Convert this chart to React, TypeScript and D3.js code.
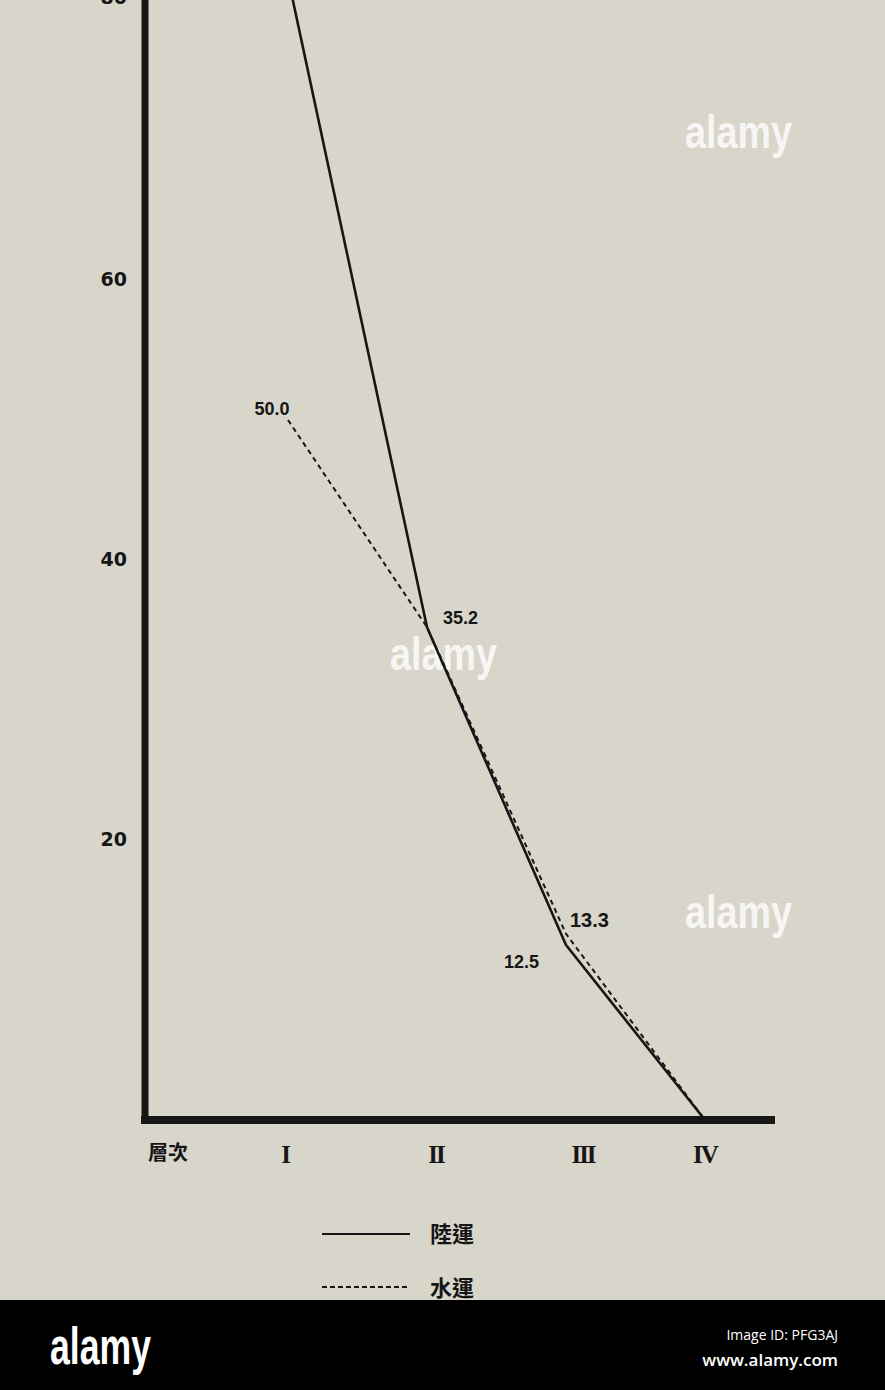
import * as d3 from 'd3';

const categories = ['I', 'II', 'III', 'IV'];
const landValues = [81.6, 35.2, 12.5, 0]; // 陸運
const waterValues = [50.0, 35.2, 13.3, 0]; // 水運
const yTicks = [20, 40, 60, 80];

const pointLabels = [
  { text: '50.0', cat: 'I', value: 50.0, dx: -16, dy: -10, anchor: 'middle', size: 18 },
  { text: '35.2', cat: 'II', value: 35.2, dx: 16, dy: -8, anchor: 'start', size: 18 },
  { text: '13.3', cat: 'III', value: 13.3, dx: 4, dy: -12, anchor: 'start', size: 20 },
  { text: '12.5', cat: 'III', value: 12.5, dx: -62, dy: 18, anchor: 'start', size: 18 },
];

const W = 885;
const H = 1390;
const BG = '#d8d5ca';
const INK = '#161616';
const CJK = '"Noto Sans CJK TC", "Noto Sans CJK SC", sans-serif';
const LOGO_FONT = "'Liberation Sans', Arial, sans-serif";

export default function App() {
  const x = d3.scalePoint<string>().domain(categories).range([288, 705]);
  const y = d3.scaleLinear().domain([0, 80]).range([1120, 0]);

  const line = d3
    .line<number>()
    .x((_, i) => x(categories[i])!)
    .y((d) => y(d));

  const axisX = 145;
  const axisY = y(0);

  return (
    <svg
      width={W}
      height={H}
      viewBox={`0 0 ${W} ${H}`}
      style={{ position: 'absolute', left: 0, top: 0, display: 'block' }}
    >
      <rect width={W} height={H} fill={BG} />

      {/* watermarks */}
      {[
        [685, 148],
        [390, 670],
        [685, 928],
      ].map(([lx, ly], i) => (
        <text
          key={i}
          x={lx}
          y={ly}
          fontFamily={LOGO_FONT}
          fontWeight="bold"
          fontSize={46}
          textLength={107}
          lengthAdjust="spacingAndGlyphs"
          fill="#ffffff"
          opacity={0.8}
        >
          alamy
        </text>
      ))}

      {/* axes */}
      <line x1={axisX} y1={0} x2={axisX} y2={axisY + 3} stroke={INK} strokeWidth={7} />
      <line x1={axisX - 4} y1={axisY} x2={775} y2={axisY} stroke={INK} strokeWidth={8} />

      {yTicks.map((t) => (
        <text
          key={t}
          x={127}
          y={y(t) + (t === 80 ? -2 : 0)}
          textAnchor="end"
          dominantBaseline="middle"
          fontFamily="'DejaVu Sans', sans-serif"
          fontWeight="bold"
          fontSize={19}
          fill={INK}
        >
          {t}
        </text>
      ))}

      <text x={148} y={1160} fontFamily={CJK} fontWeight="bold" fontSize={20} fill={INK}>
        層次
      </text>
      {categories.map((c) => (
        <text
          key={c}
          x={x(c)! + (c === 'I' ? -3 : c === 'II' ? 9 : c === 'III' ? 17 : 0)}
          y={1163}
          textAnchor="middle"
          fontFamily="'Liberation Serif', serif"
          fontWeight="bold"
          fontSize={25}
          fill={INK}
          style={{ letterSpacing: '-2px' }}
        >
          {c}
        </text>
      ))}

      {/* series */}
      <path d={line(landValues)!} fill="none" stroke={INK} strokeWidth={2.6} strokeLinejoin="round" />
      <path d={line(waterValues)!} fill="none" stroke={INK} strokeWidth={2} strokeDasharray="5,4" />

      {pointLabels.map((p) => (
        <text
          key={p.text}
          x={x(p.cat)! + p.dx}
          y={y(p.value) + p.dy}
          textAnchor={p.anchor}
          dominantBaseline="middle"
          fontFamily="'Liberation Sans', Arial, sans-serif"
          fontWeight="bold"
          fontSize={p.size}
          fill={INK}
        >
          {p.text}
        </text>
      ))}

      {/* legend */}
      <line x1={322} y1={1234} x2={410} y2={1234} stroke={INK} strokeWidth={2.2} />
      <text x={430} y={1242} fontFamily={CJK} fontWeight="bold" fontSize={22} fill={INK}>
        陸運
      </text>
      <line x1={322} y1={1287} x2={410} y2={1287} stroke={INK} strokeWidth={2} strokeDasharray="5,3" />
      <text x={430} y={1296} fontFamily={CJK} fontWeight="bold" fontSize={22} fill={INK}>
        水運
      </text>

      {/* banner */}
      <rect x={0} y={1300} width={W} height={90} fill="#000" />
      <text
        x={50}
        y={1364}
        fontFamily={LOGO_FONT}
        fontWeight="bold"
        fontSize={52}
        textLength={101}
        lengthAdjust="spacingAndGlyphs"
        fill="#fff"
      >
        alamy
      </text>
      <text x={838} y={1340} textAnchor="end" fontFamily="'Open Sans', sans-serif" fontSize={14} fill="#fff">
        Image ID: PFG3AJ
      </text>
      <text
        x={838}
        y={1366}
        textAnchor="end"
        fontFamily="'Open Sans', sans-serif"
        fontWeight="600"
        fontSize={17}
        fill="#fff"
      >
        www.alamy.com
      </text>
    </svg>
  );
}
